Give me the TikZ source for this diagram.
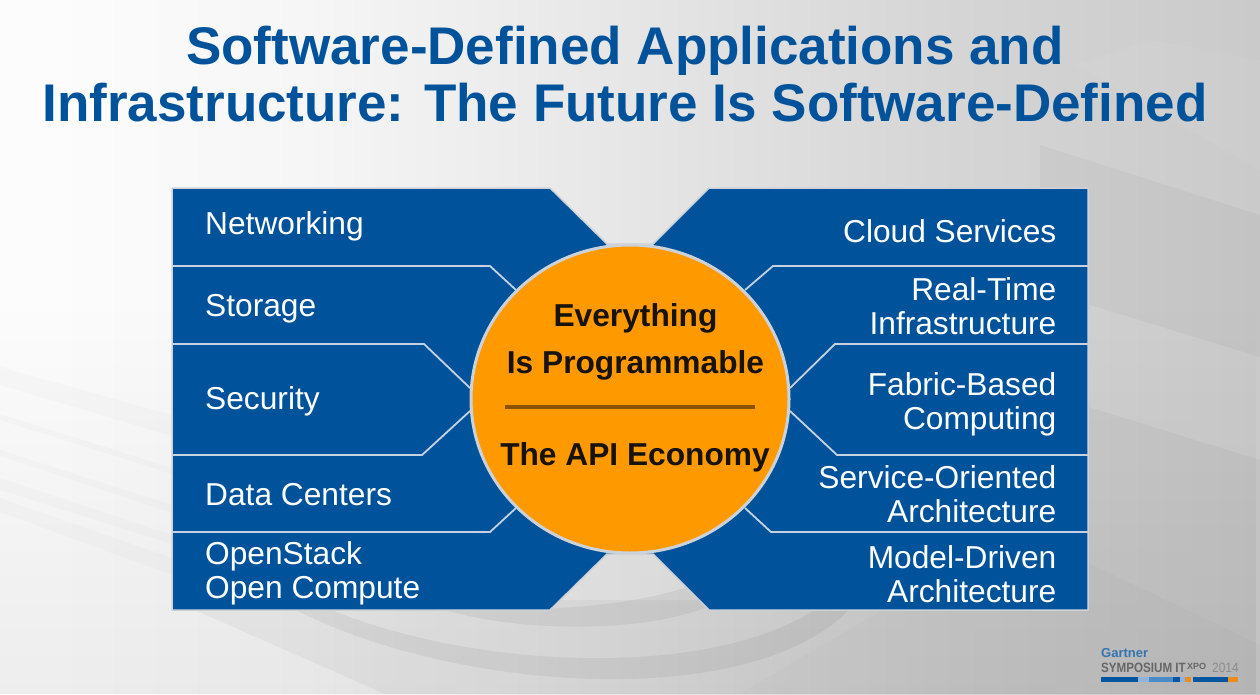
\documentclass[tikz,border=0pt]{standalone}
\usepackage{fontspec}
\setmainfont{Liberation Sans}
\usepackage{xcolor}
\usepackage{tikz}
\usetikzlibrary{fadings}
\definecolor{gblue}{HTML}{00539B}
\definecolor{gorange}{HTML}{FF9900}
\definecolor{grule}{HTML}{8A5200}
\definecolor{gline}{HTML}{C4D2E2}
\definecolor{grim}{HTML}{CDD2D8}
\definecolor{gink}{HTML}{17130A}
\definecolor{bgA}{HTML}{FCFCFC}
\definecolor{bgB}{HTML}{F6F6F6}
\definecolor{bgC}{HTML}{E6E6E6}
\definecolor{bgD}{HTML}{D6D6D6}
\definecolor{bgE}{HTML}{CACACA}
\pgfdeclarehorizontalshading{slidebg}{100bp}{color(0bp)=(bgA); color(27bp)=(bgA); color(37bp)=(bgB); color(50bp)=(bgC); color(62bp)=(bgD); color(75bp)=(bgE); color(100bp)=(bgE)}
\tikzset{
  titletext/.style={anchor=base,text=gblue,font=\fontsize{53}{57}\selectfont\bfseries},
  leftlabel/.style={anchor=base west,text=white,align=left,font=\fontsize{31.7}{34}\selectfont,inner sep=0pt},
  rightlabel/.style={anchor=base east,text=white,align=right,font=\fontsize{31.7}{34}\selectfont,inner sep=0pt},
  hublabel/.style={anchor=base,text=gink,font=\fontsize{31.7}{34}\selectfont\bfseries,inner sep=0pt},
  divider/.style={draw=gline,line width=1.8pt,line join=round},
  band/.style={fill=black,opacity=0.03},
  streak/.style={fill=black,opacity=0.016}
}
\begin{document}
\begin{tikzpicture}[x=1pt,y=-1pt]
\useasboundingbox (0,0) rectangle (1260,694);
\begin{scope}
\clip (0,0) rectangle (1260,694);
\shade[shading=slidebg] (0,0) rectangle (1260,694);
\fill[black,opacity=0.06,path fading=north] (0,300) rectangle (1260,694);
% streaks on the left
\fill[streak] (0,367) -- (172,415) -- (172,436) -- (0,385) -- cycle;
\fill[streak] (0,414) -- (172,468) -- (172,474) -- (0,420) -- cycle;
\fill[streak] (0,450) -- (172,505) -- (172,513) -- (0,456) -- cycle;
\fill[streak] (0,478) -- (172,535) -- (172,544) -- (0,490) -- cycle;
\fill[streak] (0,498) -- (172,558) -- (172,575) -- (0,512) -- cycle;
% bands on the right
\fill[band] (1040,145) -- (1260,215) -- (1260,357) -- (1090,305) -- (1040,290) -- cycle;
\fill[band] (1040,392) -- (1260,460) -- (1260,645) -- (1040,540) -- cycle;
\fill[white,opacity=0.05] (1075,65) -- (1260,170) -- (1260,60) -- (1150,40) -- cycle;
% swooshes at the bottom
\fill[black,opacity=0.035] (172,600) -- (385,694) -- (740,694) -- (900,600) -- cycle;
\fill[black,opacity=0.05] (900,600) -- (740,694) -- (1260,694) -- (1260,645) -- (1088,563) -- (900,563) -- cycle;
\fill[black,opacity=0.05] (278,600) .. controls (430,690) and (760,720) .. (858,600) -- (828,600) .. controls (730,680) and (470,675) .. (308,600) -- cycle;
\fill[black,opacity=0.05] (438,608) .. controls (520,612) and (620,610) .. (690,586) -- (722,600) .. controls (660,634) and (520,634) .. (438,608) -- cycle;
\end{scope}
% title
\node[titletext] (titleone) at (625,64) {Software-Defined Applications and};
\node[titletext] (titletwo) at (625,121) {Infrastructure: The Future Is Software-Defined};
% panel
\draw[fill=gblue,draw=grim,line width=1.5pt,line join=miter] (172,188) -- (550,188) -- (607,244) -- (653,244) -- (709,188) -- (1088,188) -- (1088,610) -- (709,610) -- (653,554) -- (607,554) -- (550,610) -- (172,610) -- cycle;
% dividers
\draw[divider] (172,266) -- (490,266) -- (516,290);
\draw[divider] (172,344) -- (424,344) -- (470,388);
\draw[divider] (172,455) -- (422,455) -- (470,411);
\draw[divider] (172,532) -- (490,532) -- (516,508);
\draw[divider] (1088,266) -- (773,266) -- (745,290);
\draw[divider] (1088,344) -- (835,344) -- (790,388);
\draw[divider] (1088,455) -- (837,455) -- (790,411);
\draw[divider] (1088,532) -- (771,532) -- (745,508);
% hub
\draw[fill=gorange,draw=grim,line width=3pt] (630,399) ellipse (159 and 154);
\draw[grule,line width=4pt] (505,407) -- (755,407);
\node[hublabel] (hubone) at (635.5,326) {Everything};
\node[hublabel] (hubtwo) at (635.5,373) {Is Programmable};
\node[hublabel] (hubthree) at (635,465) {The API Economy};
% labels
\foreach \nm/\y/\txt in {networking/234/Networking, storage/316/Storage, security/409/Security, datacenters/505/Data Centers, openstack/598/{OpenStack\\Open Compute}}
  \node[leftlabel] (\nm) at (205,\y) {\txt};
\foreach \nm/\y/\txt in {cloud/242/Cloud Services, realtime/334/{Real-Time\\Infrastructure}, fabric/429/{Fabric-Based\\Computing}, service/522/{Service-Oriented\\Architecture}, model/602/{Model-Driven\\Architecture}}
  \node[rightlabel] (\nm) at (1056.5,\y) {\txt};
% logo
\node[anchor=base west,inner sep=0pt,text=gblue!80!white,font=\fontsize{13}{15}\selectfont\bfseries] (gartner) at (1101,657) {Gartner};
\node[anchor=base west,inner sep=0pt,text=black!60,font=\fontsize{13.5}{14}\selectfont\bfseries] (symposium) at (1101,672) {\scalebox{0.86}[1]{SYMPOSIUM IT}};
\node[anchor=base west,inner sep=0pt,text=black!60,font=\fontsize{9}{9}\selectfont\bfseries] (xpo) at (1187,669) {XPO};
\node[anchor=base west,inner sep=0pt,text=black!45,font=\fontsize{13.5}{14}\selectfont] (year) at (1212,672) {\scalebox{0.88}[1]{2014}};
\foreach \a/\b/\c in {1101/1138/0057A0, 1138/1149/8FB3DC, 1149/1173/4A8CC8, 1173/1180/0057A0, 1180/1185/8FB3DC, 1185/1191/F08A1D, 1193/1228/0057A0, 1228/1238/F08A1D}
  {\definecolor{logobar}{HTML}{\c}\fill[logobar] (\a,677) rectangle (\b,682);}
\end{tikzpicture}
\end{document}
